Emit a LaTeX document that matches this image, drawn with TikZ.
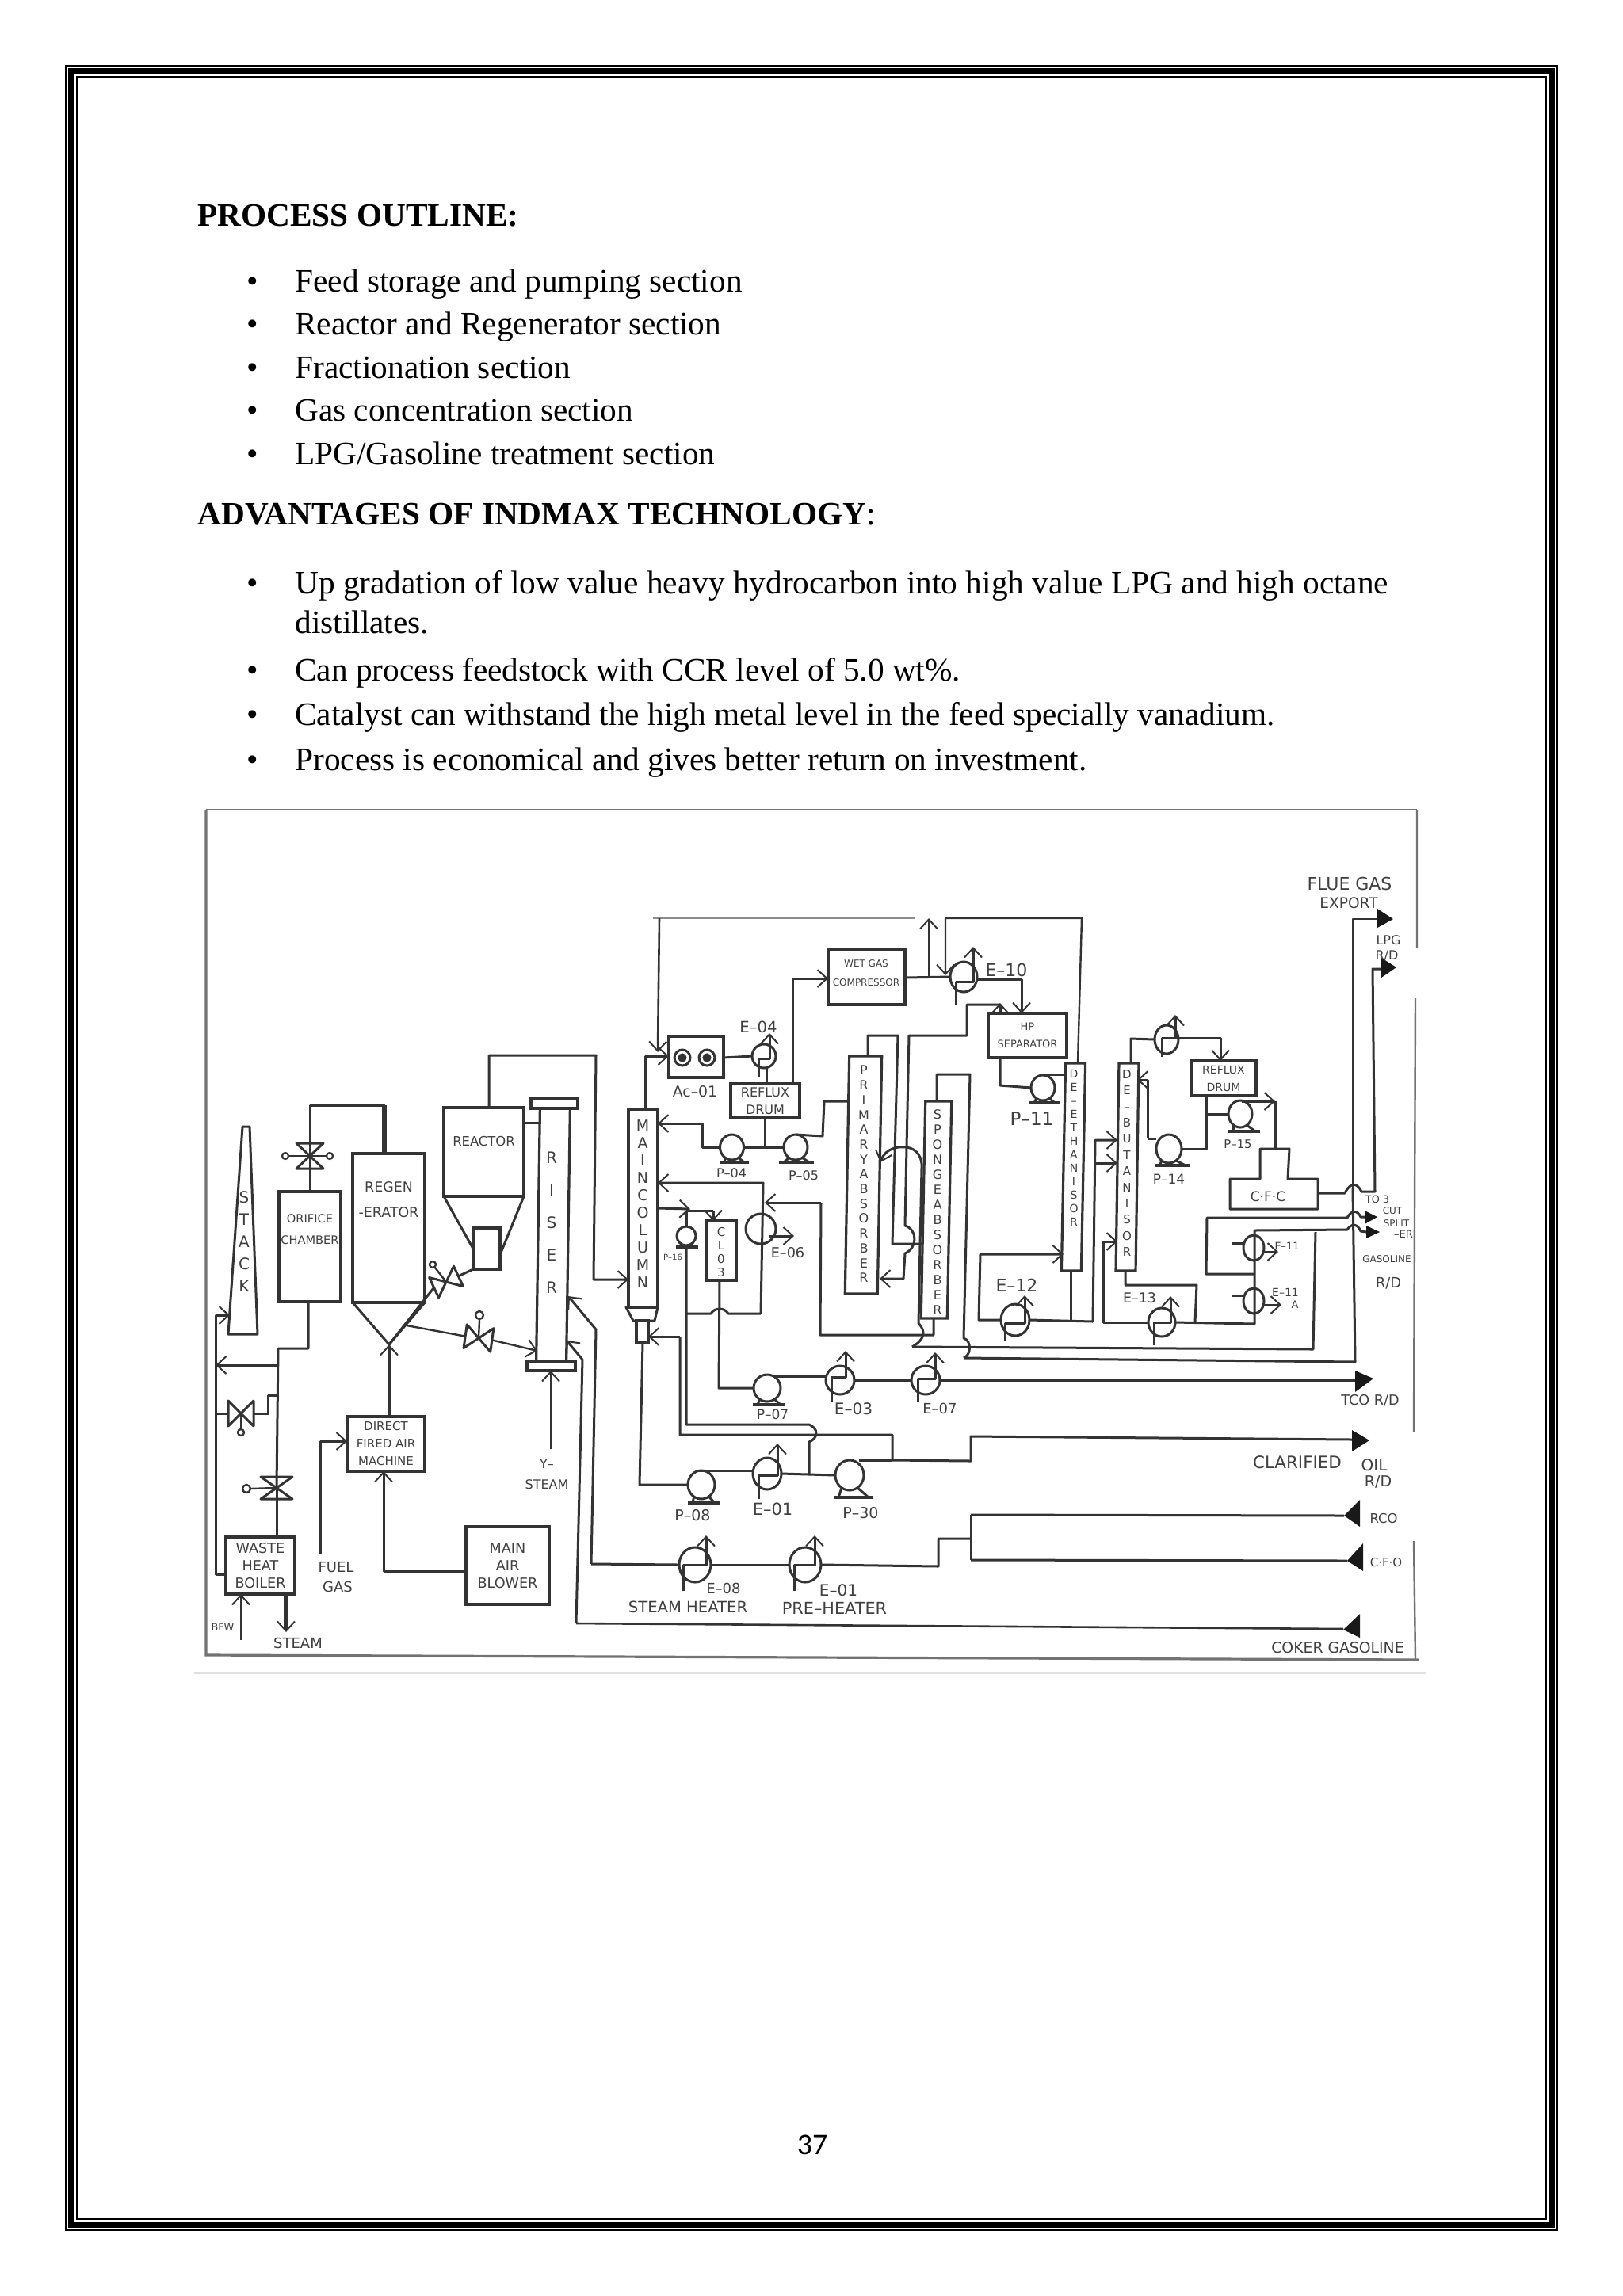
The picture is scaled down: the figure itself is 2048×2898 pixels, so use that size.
\documentclass[tikz,border=0pt]{standalone}
\usepackage{fontspec}
\setmainfont{Liberation Serif}
\newfontfamily\handfont{DejaVu Sans}
\newfontfamily\pagefont{Carlito}
\usetikzlibrary{arrows.meta,shapes.geometric}
\definecolor{ink}{gray}{0.2}
\definecolor{lab}{gray}{0.25}
\newcount\lblc
% text of the page
\newcommand{\bodyline}[4]{\node[bodytxt] (#1) at (#2,#3) {#4};}
% handwritten label: x y size-in-pt leading-in-pt text
\newcommand{\lab}[5]{\global\advance\lblc by 1\relax
  \node[handtxt,font=\handfont\fontsize{#3}{#4}\selectfont] (lbl\the\lblc) at (#1,#2) {#5};}
% box: name x1 y1 x2 y2 size text
\newcommand{\eqbox}[7]{\node[eqb,minimum width={(#4-#2)*0.5pt},minimum height={(#5-#3)*0.5pt},
  font=\handfont\fontsize{#6}{11}\selectfont] (#1) at ({(#2+#4)/2},{(#3+#5)/2}) {#7};}
% slanted column: name x1 y1 x2 y2 slant
\newcommand{\column}[6]{\node[eqb,xslant=#6,transform shape,minimum width={(#4-#2)*0.5pt},minimum height={(#5-#3)*0.5pt}]
  (#1) at ({(#2+#4)/2},{(#3+#5)/2}) {};}
% ellipse: name x y rx ry
\newcommand{\vessel}[5]{\node[ell,minimum width={#4*1pt},minimum height={#5*1pt}] (#1) at (#2,#3) {};}
% pump: name x y rx ry basey basex1 basex2
\newcommand{\pumpu}[8]{\vessel{#1}{#2}{#3}{#4}{#5}
  \draw[pipe,line width=2.2pt] (#7,#6) -- (#8,#6);
  \draw[pipe] ({#2-0.55*#4},{#3+0.83*#5}) -- ({#7+6},#6) ({#2+0.55*#4},{#3+0.83*#5}) -- ({#8-6},#6);}
% tube of an exchanger: inx arrx midy iny arry
\newcommand{\tube}[5]{\draw[pipe,arr] (#1,#4) -- (#1,#3) -- (#2,#3) -- (#2,#5);}
% valve: name x y rot w h
\newcommand{\valve}[6]{\begin{scope}[shift={(#2,#3)},rotate=#4]
  \draw[pipe] (-#5,-#6) -- (#5,#6) -- (#5,-#6) -- (-#5,#6) -- cycle;
  \coordinate (#1) at (0,0); \coordinate (#1-a) at (-#5,0); \coordinate (#1-b) at (#5,0);
  \end{scope}}
\tikzset{
  bodytxt/.style={anchor=base west,inner sep=0pt,font=\fontsize{20.65}{24}\selectfont,text=black},
  handtxt/.style={inner sep=0pt,text=lab,align=center},
  eqb/.style={draw=ink,line width=1.6pt,inner sep=0pt,outer sep=0pt,rectangle,align=center,text=lab},
  ell/.style={draw=ink,line width=1.5pt,inner sep=0pt,outer sep=0pt,ellipse},
  pipe/.style={draw=ink,line width=1.5pt,line join=round},
  faint/.style={draw=black!45,line width=1.1pt},
  frameb/.style={draw=black!55,line width=1.2pt},
  arr/.style={-{Straight Barb[length=6pt,width=11pt,line width=1pt]}},
  solidtip/.style={fill=black!90,draw=none}
}
\begin{document}
\begin{tikzpicture}[x=0.5pt,y=-0.5pt]
\useasboundingbox (0,0) rectangle (2048,2898);
\fill[white] (0,0) rectangle (2048,2898);
% page border
\draw[black,line width=0.8pt] (83,83) rectangle (1965,2815);
\draw[black,line width=3.6pt] (89.5,89.5) rectangle (1958.5,2808.5);
\draw[black,line width=1.1pt] (97,97) rectangle (1951,2801);
% page text
\bodyline{t1}{249}{285}{\textbf{PROCESS OUTLINE:}}
\foreach \n/\y/\t in {a/368/{Feed storage and pumping section},b/422/{Reactor and Regenerator section},
  c/477/{Fractionation section},d/531/{Gas concentration section},e/586/{LPG/Gasoline treatment section},
  f/749/{Up gradation of low value heavy hydrocarbon into high value LPG and high octane},
  h/859/{Can process feedstock with CCR level of 5.0 wt\%.},
  i/915/{Catalyst can withstand the high metal level in the feed specially vanadium.},
  j/972/{Process is economical and gives better return on investment.}}{
  \node[bodytxt] (bul\n) at (311,\y) {•};
  \node[bodytxt] (txt\n) at (372,\y) {\t};
}
\bodyline{t2}{372}{799}{distillates.}
\bodyline{t3}{249}{662}{\textbf{ADVANTAGES OF INDMAX TECHNOLOGY}:}
\node[inner sep=0pt,font=\pagefont\fontsize{18.9}{22}\selectfont] (pageno) at (1025,2707) {37};

% frame of the scanned figure
\draw[frameb] (260,1022) -- (1788,1022);
\draw[frameb,line width=1.6pt] (260,1022) -- (260,2089) -- (1790,2095);
\draw[frameb] (1788,1022) -- (1788,1196) (1786,1260) -- (1784,1807) (1784,1945) -- (1786,2095);
\draw[black!12,line width=1pt] (245,2112) -- (1800,2112);

% ---------- left section ----------
\draw[pipe] (306,1422) -- (315,1422) -- (325,1684) -- (288,1684) -- cycle;
\coordinate (stackin) at (290,1660);
\lab{308}{1567}{10}{13.9}{S\\T\\A\\C\\K}
\eqbox{orifice}{352}{1504}{430}{1643}{7.3}{\raisebox{22pt}{\shortstack{ORIFICE\\[5pt]CHAMBER}}}
\eqbox{regen}{445}{1456}{536}{1644}{8.7}{\raisebox{36pt}{\shortstack{REGEN\\[6pt]-ERATOR}}}
\draw[pipe] (regen.south west) -- (491,1697) -- (regen.south east);
\eqbox{reactor}{560}{1398}{661}{1510}{8.2}{\raisebox{14pt}{REACTOR}}
\eqbox{rcbox}{597}{1550}{631}{1602}{6}{}
\draw[pipe] (reactor.south west) -- (rcbox.west);
\draw[pipe] (reactor.south east) -- (630,1586);
\column{riser}{679}{1399}{717}{1718}{0.015}
\lab{696}{1543}{10}{20.5}{R\\I\\S\\E\\R}
\eqbox{rtop}{670}{1386}{729}{1399}{6}{}
\eqbox{rbot}{665}{1719}{726}{1730}{6}{}
\eqbox{dfam}{438}{1788}{536}{1857}{7.5}{DIRECT\\FIRED AIR\\MACHINE}
\eqbox{blower}{588}{1927}{693}{2025}{8.8}{MAIN\\AIR\\BLOWER}
\eqbox{whb}{285}{1940}{372}{2012}{8.8}{WASTE\\HEAT\\BOILER}

\valve{v1}{391}{1459}{90}{16}{17}
\valve{v2}{349}{1878}{90}{14}{20}
\valve{v3}{304}{1784}{0}{16}{16}
\valve{v4}{563}{1618}{25}{17}{14}
\valve{v5}{604}{1689}{-8}{17}{15}
\draw[pipe,line width=1.1pt] (364,1459) -- (411,1459); \draw[pipe,line width=1.1pt] (360,1459) circle[radius=4] (416,1459) circle[radius=4];
\draw[pipe,line width=1.2pt] (349,1878) -- (316,1879); \draw[pipe,line width=1.2pt] (311,1879) circle[radius=5];
\draw[pipe,line width=1.2pt] (304,1784) -- (304,1804); \draw[pipe,line width=1.2pt] (304,1808) circle[radius=4];
\draw[pipe,line width=1.2pt] (563,1618) -- (549,1600); \draw[pipe,line width=1.2pt] (546,1596) circle[radius=4];
\draw[pipe,line width=1.2pt] (604,1689) -- (605,1666); \draw[pipe,line width=1.2pt] (605,1660) circle[radius=5];

\draw[pipe] (391,0 |- orifice.north) -- (v1);
\draw[pipe] (v1) -- (391,1395) -- (485,1395) -- (485,0 |- regen.north);
\draw[pipe,line width=2.6pt] (485,1395) -- (485,0 |- regen.north);
\draw[pipe] (389,0 |- orifice.south) -- (389,1702) -- (351,1702) -- (v2);
\draw[pipe] (349,0 |- whb.north) -- (v2);
\draw[pipe,arr] (351,1723) -- (272,1723);
\draw[pipe] (351,1761) -- (338,1761) -- (338,1784) -- (v3-b);
\draw[pipe] (v3-a) -- (272,1784);
\draw[pipe,arr] (whb.west |- 0,1987) -- (272,1987) -- (272,1660) -- (stackin);
\draw[pipe] (491,1697) -- (v4-a);
\draw[pipe] (v4-b) -- (rcbox.south west);
\draw[pipe,line width=1.2pt] (513,1673) -- (v5-a);
\draw[pipe,line width=1.2pt,arr] (v5-b) -- (678,1705);
\draw[pipe,arr] (491,0 |- dfam.north) -- (491,1697);
\draw[pipe,arr] (404,1962) -- (404,1819) -- (dfam.west |- 0,1819);
\draw[pipe,arr] (blower.west |- 0,1983) -- (484,1983) -- (484,0 |- dfam.south);
\draw[pipe,arr] (304,2070) -- (304,0 |- whb.south);
\draw[pipe,arr,line width=2.6pt] (361,0 |- whb.south) -- (361,2060);
\draw[pipe,arr] (695,1829) -- (695,0 |- rbot.south);
\draw[pipe] (reactor.east |- 0,1417) -- (683,1417);
\lab{690}{1848}{8}{10}{Y–}
\lab{690}{1874}{8}{10}{STEAM}
\lab{424}{1978}{9}{9}{FUEL}
\lab{426}{2003}{9}{9}{GAS}
\lab{281}{2054}{6.4}{9}{BFW}
\lab{376}{2074}{9}{9}{STEAM}

% ---------- main column section ----------
\eqbox{mc}{793}{1400}{830}{1650}{6}{}
\lab{811}{1520}{9.5}{11}{M\\A\\I\\N\\C\\O\\L\\U\\M\\N}
\draw[pipe] (790,1650) -- (830,1650) -- (826,1667) -- (799,1667) -- cycle;
\eqbox{mcb}{803}{1667}{818}{1695}{6}{}
\eqbox{ac}{844}{1308}{913}{1360}{6}{}
\foreach \cx/\nm in {861/fa,892/fb}{
  \node[ell,minimum size=10pt] (\nm) at (\cx,1335) {};
  \node[ell,minimum size=4pt,fill=ink] (\nm c) at (\cx,1335) {};
}
\lab{877}{1378}{9.4}{10}{Ac–01}
\eqbox{drumA}{922}{1368}{1009}{1411}{8}{REFLUX\\DRUM}
\eqbox{wgc}{1045}{1198}{1142}{1268}{6}{}
\lab{1093}{1228}{6}{12}{WET GAS\\COMPRESSOR}
\eqbox{hps}{1247}{1279}{1346}{1335}{6.5}{HP\\SEPARATOR}
\eqbox{cl}{891}{1541}{929}{1616}{6}{}
\lab{910}{1581}{7.5}{8.5}{C\\L\\0\\3}
\column{pa}{1069}{1333}{1110}{1633}{0.018}
\lab{1090}{1482}{8}{9.35}{P\\R\\I\\M\\A\\R\\Y\\A\\B\\S\\O\\R\\B\\E\\R}
\column{sa}{1165}{1390}{1198}{1664}{0.02}
\lab{1183}{1530}{8}{9.5}{S\\P\\O\\N\\G\\E\\A\\B\\S\\O\\R\\B\\E\\R}
\column{de}{1342}{1342}{1367}{1604}{0.02}
\lab{1355}{1449}{7}{8.5}{D\\E\\–\\E\\T\\H\\A\\N\\I\\S\\O\\R}
\column{db}{1410}{1342}{1435}{1604}{0.015}
\lab{1422}{1468}{7.5}{10.2}{D\\E\\–\\B\\U\\T\\A\\N\\I\\S\\O\\R}
\eqbox{drumB}{1503}{1339}{1585}{1383}{7}{REFLUX\\DRUM}

% pumps and exchangers
\pumpu{p04}{923.5}{1448}{15}{16}{1467}{908}{945}
\pumpu{p05}{1004}{1448}{15}{16}{1467}{983}{1027}
\pumpu{p16}{866}{1560}{12}{12}{1574}{853}{881}
\pumpu{p07}{968}{1752}{17}{17}{1773}{950}{991}
\pumpu{p08}{885}{1874}{17}{18}{1897}{868}{908}
\pumpu{p30}{1072}{1862}{18}{19}{1890}{1052}{1102}
\pumpu{p11}{1316}{1373}{15}{16}{1392}{1299}{1337}
\pumpu{p14}{1475}{1450}{16}{18}{1471}{1457}{1502}
\pumpu{p15}{1565}{1406}{15}{17}{1428}{1550}{1590}
\vessel{e04}{964}{1333}{15}{15}
\vessel{e10}{1216}{1233}{17}{19}
\vessel{e06}{960}{1551}{19}{19}
\vessel{e03}{1060}{1742}{18}{18}
\vessel{e07}{1168}{1742}{18}{18}
\vessel{e01}{968}{1860}{18}{20}
\vessel{e08}{877}{1975}{20}{22}
\vessel{e01b}{1016}{1975}{20}{22}
\vessel{e12}{1281}{1666}{18}{20}
\vessel{e13}{1466}{1669}{17}{18}
\vessel{ecd}{1472}{1312}{15}{18}
\vessel{e11}{1582}{1575}{13}{16}
\vessel{e11a}{1582}{1642}{13}{16}
\tube{957}{971}{1336}{1360}{1304}
\tube{1206}{1228}{1239}{1268}{1195}
\tube{1049}{1067}{1738}{1770}{1705}
\tube{1158}{1180}{1740}{1770}{1707}
\tube{957}{981}{1862}{1892}{1822}
\tube{862}{891}{1975}{2008}{1938}
\tube{1002}{1028}{1975}{2008}{1938}
\tube{1268}{1293}{1670}{1692}{1635}
\tube{1456}{1477}{1669}{1698}{1636}
\tube{1466}{1483}{1310}{1334}{1281}

% fractionation piping
\draw[pipe,arr] (617,0 |- reactor.north) -- (617,1332) -- (752,1332) -- (749,1615) -- (mc.west |- 0,1615);
\draw[pipe,arr] (814,0 |- mc.north) -- (814,1333) -- (ac.west |- 0,1333);
\draw[faint] (824,1159) -- (1155,1159);
\draw[pipe,arr,line width=1.3pt] (832,1159) -- (830,1328);
\draw[pipe] (ac.east |- 0,1335) -- (e04.west);
\draw[pipe] (967,1346) -- (967,0 |- drumA.north);
\draw[pipe,arr] (1000,0 |- drumA.north) -- (1000,1235) -- (wgc.west |- 0,1235);
\draw[pipe] (965,0 |- drumA.south) -- (965,1448);
\draw[pipe] (p04.east) -- (p05.west);
\draw[pipe,arr] (p04.west) -- (886,1448) -- (886,1418) -- (mc.east |- 0,1418);
\draw[pipe] (p05.north) -- (1038,1434) -- (1040,1390) -- (pa.west |- 0,1390);
\draw[pipe,arr] (830,1525) -- (871,1526);
\draw[pipe] (p16.north) -- (866,1528) -- (900,1528);
\draw[pipe,arr] (900,1528) -- (900,0 |- cl.north);
\draw[pipe,arr] (960,1658) -- (963,1493) -- (mc.east |- 0,1493);
\draw[pipe,arr] (1036,1518) -- (965,1518);
\draw[pipe,arr] (970,1560) -- (1002,1560);
\draw[pipe] (p16.south) -- (866,1658) -- (897,1658) .. controls (902,1650) and (914,1650) .. (919,1658) -- (960,1658);
\draw[pipe] (866,1658) -- (866,1798) -- (1021,1798) .. controls (1033,1803) and (1033,1815) .. (1021,1820) -- (p30.west -| 1021,0);
\draw[pipe] (908,0 |- cl.south) -- (907,1752) -- (p07.west);
\draw[pipe] (977,1737) -- (e03.west |- 0,1737);
\draw[pipe] (e03.east) -- (e07.west);
\draw[pipe] (e07.east) -- (1710,1742);
\draw[pipe,arr] (858,1687) -- (mcb.east |- 0,1687);
\draw[pipe] (858,1687) -- (858,1811) -- (1126,1811) -- (1126,1843) -- (1225,1844) -- (1225,1813) -- (1706,1817);
\draw[pipe] (1084,1843) -- (1126,1843);
\draw[pipe] (811,0 |- mcb.south) -- (807,1874) -- (p08.west);
\draw[pipe] (882,1856) -- (e01.west |- 0,1856);
\draw[pipe] (e01.east) -- (p30.west);
\draw[pipe] (746,1974) -- (e08.west);
\draw[pipe] (e08.east) -- (e01b.west);
\draw[pipe] (e01b.east) -- (1184,1977) -- (1184,1942) -- (1225,1942);
\draw[pipe] (1225,1912) -- (1225,1969);
\draw[pipe] (1225,1912) -- (1696,1913);
\draw[pipe] (1225,1969) -- (1700,1970);
\draw[pipe,arr] (746,1974) -- (752,1678) -- (717,1636);
\draw[pipe,arr] (727,2049) -- (735,1716) -- (715,1692);
\draw[pipe,line width=1.3pt] (727,2049) -- (1695,2056);

% gas concentration piping
\draw[pipe] (wgc.east |- 0,1234) -- (e10.west);
\draw[pipe,arr] (1172,1234) -- (1172,1159);
\draw[pipe,line width=1.2pt,arr] (1360,0 |- de.north) -- (1365,1159) -- (1193,1159) -- (1193,1231);
\draw[pipe,arr] (e10.east |- 0,1236) -- (1289,1236) -- (1289,0 |- hps.north);
\draw[pipe,arr] (1262,0 |- hps.north) -- (1262,1266);
\draw[pipe] (1262,1268) -- (1220,1268) -- (1220,1307) -- (1147,1307) -- (1144,1448);
\draw[pipe,arr] (1144,1448) .. controls (1125,1446) and (1115,1455) .. (1111,1467);
\draw[pipe] (1144,1448) .. controls (1158,1450) and (1164,1462) .. (1163,1474) -- (1159,1670) .. controls (1168,1680) and (1168,1690) .. (1151,1700);
\draw[pipe,arr] (1144,1448) -- (1142,1547) .. controls (1158,1552) and (1158,1575) .. (1142,1582) -- (1140,1614) -- (pa.east |- 0,1614);
\draw[pipe] (1095,0 |- pa.north) -- (1095,1307) -- (1133,1307) -- (1126,1570) -- (1165,1570);
\draw[pipe] (1182,0 |- sa.north) -- (1182,1356) -- (1224,1356) -- (1216,1689) .. controls (1226,1692) and (1226,1710) .. (1216,1714);
\draw[pipe] (1178,0 |- sa.south) -- (1178,1685) -- (1035,1685) -- (1036,1518);
\draw[pipe] (1151,1700) -- (1657,1703) -- (1660,1555);
\draw[pipe] (1216,1714) -- (1710,1719) -- (1707,1500);
\draw[pipe,line width=1.3pt] (1707,1500) -- (1707,1160) -- (1738,1160);
\draw[pipe] (1262,0 |- hps.south) -- (1262,1370) -- (p11.west);
\draw[pipe] (1316,1356) -- (de.west |- 0,1356);
\draw[pipe,arr] (e12.west) -- (1235,1666) -- (1237,1583) -- (de.west |- 0,1583);
\draw[pipe] (e12.east) -- (1379,1668);
\draw[pipe] (1351,0 |- de.south) -- (1351,1668);
\draw[pipe,arr] (1379,1668) -- (1382,1439) -- (db.west |- 0,1439);
\draw[pipe,arr] (1381,1468) -- (db.west |- 0,1468);

% debutaniser piping
\draw[pipe] (1427,0 |- db.north) -- (1427,1311) -- (ecd.west);
\draw[pipe,arr] (1483,1310) -- (1540,1310) -- (1540,0 |- drumB.north);
\draw[pipe] (p14.west |- 0,1437) -- (1448,1437);
\draw[pipe,arr] (1448,1437) -- (1448,1363) -- (db.east |- 0,1363);
\draw[pipe] (p14.east) -- (1522,1450) -- (1522,0 |- drumB.south);
\draw[pipe] (1522,1406) -- (p15.west);
\draw[pipe,arr] (1567,1390) -- (1609,1390);
\draw[pipe] (1609,1390) -- (1609,1450);
\draw[pipe] (1420,0 |- db.south) -- (1420,1622) -- (1510,1622) -- (1508,1669);
\draw[pipe,arr] (e13.west) -- (1392,1669) -- (1392,1567) -- (db.west |- 0,1567);
\draw[pipe] (e13.east) -- (1583,1671) -- (1583,1553);
\draw[pipe] (1555,1569) -- (e11.west |- 0,1569);
\draw[pipe,arr] (1593,1580) -- (1613,1580);
\draw[pipe] (1555,1635) -- (e11a.west |- 0,1635);
\draw[pipe,arr] (1593,1647) -- (1617,1647);
\draw[pipe] (1583,1608) -- (1522,1608) -- (1523,1537) -- (1700,1537) .. controls (1705,1527) and (1713,1527) .. (1717,1536) -- (1722,1536);
\draw[pipe] (1583,1553) -- (1700,1552) .. controls (1705,1544) and (1713,1544) .. (1717,1554) -- (1724,1555);
\draw[pipe] (1552,1488) -- (1590,1488) -- (1590,1450) -- (1627,1450) -- (1625,1488) -- (1663,1488) -- (1663,1526) -- (1552,1526) -- cycle;
\lab{1600}{1510}{8.5}{10}{C·F·C}
\draw[pipe] (1663,1506) -- (1697,1506) .. controls (1704,1492) and (1712,1492) .. (1718,1504) -- (1735,1504) -- (1732,1223) -- (1743,1223);

% solid product arrows
\fill[solidtip] (1758,1160) -- (1738,1147) -- (1738,1171) -- cycle;
\fill[solidtip] (1762,1221) -- (1743,1209) -- (1743,1234) -- cycle;
\fill[solidtip] (1738,1536) -- (1722,1528) -- (1722,1545) -- cycle;
\fill[solidtip] (1741,1555) -- (1724,1547) -- (1724,1563) -- cycle;
\fill[solidtip] (1733,1740) -- (1710,1730) -- (1710,1757) -- cycle;
\fill[solidtip] (1728,1818) -- (1706,1805) -- (1706,1832) -- cycle;
\fill[solidtip] (1696,1913) -- (1716,1893) -- (1716,1927) -- cycle;
\fill[solidtip] (1700,1970) -- (1720,1948) -- (1720,1983) -- cycle;
\fill[solidtip] (1695,2057) -- (1716,2037) -- (1716,2067) -- cycle;

% labels
\lab{957}{1296}{9.8}{10}{E–04}
\lab{923}{1481}{8}{9}{P–04}
\lab{1014}{1484}{8}{9}{P–05}
\lab{849}{1587}{5}{8}{P–16}
\lab{994}{1581}{8.8}{9}{E–06}
\lab{1270}{1224}{11}{10}{E–10}
\lab{1302}{1412}{11.5}{10}{P–11}
\lab{1283}{1622}{11}{10}{E–12}
\lab{1438}{1638}{8.7}{9}{E–13}
\lab{1475}{1488}{8.5}{9}{P–14}
\lab{1562}{1444}{7.4}{9}{P–15}
\lab{1624}{1573}{6.4}{7}{E–11}
\lab{1622}{1631}{7}{7}{E–11}
\lab{1634}{1647}{6.5}{7}{A}
\lab{975}{1785}{8.5}{9}{P–07}
\lab{1077}{1778}{10}{9}{E–03}
\lab{1186}{1778}{9}{9}{E–07}
\lab{874}{1913}{9.5}{9}{P–08}
\lab{975}{1905}{10.5}{9}{E–01}
\lab{1086}{1910}{9.5}{9}{P–30}
\lab{913}{2005}{9}{9}{E–08}
\lab{1058}{2007}{10}{9}{E–01}
\lab{868}{2028}{9.8}{9}{STEAM HEATER}
\lab{1053}{2030}{10.4}{9}{PRE–HEATER}
\lab{1703}{1115}{11}{10}{FLUE GAS}
\lab{1702}{1140}{9.3}{10}{EXPORT}
\lab{1752}{1187}{8}{9}{LPG}
\lab{1750}{1206}{8}{9}{R/D}
\lab{1738}{1514}{6.4}{7}{TO 3}
\lab{1757}{1528}{6}{7}{CUT}
\lab{1762}{1544}{6}{7}{SPLIT}
\lab{1771}{1558}{6.5}{7}{–ER}
\lab{1750}{1589}{6}{8}{GASOLINE}
\lab{1752}{1620}{9}{8}{R/D}
\lab{1729}{1768}{8.8}{9}{TCO R/D}
\lab{1637}{1846}{10.7}{10}{CLARIFIED}
\lab{1734}{1849}{10}{9}{OIL}
\lab{1739}{1870}{9.5}{9}{R/D}
\lab{1746}{1917}{8.2}{9}{RCO}
\lab{1749}{1972}{7.5}{9}{C·F·O}
\lab{1688}{2080}{9.4}{9}{COKER GASOLINE}
\end{tikzpicture}
\end{document}
